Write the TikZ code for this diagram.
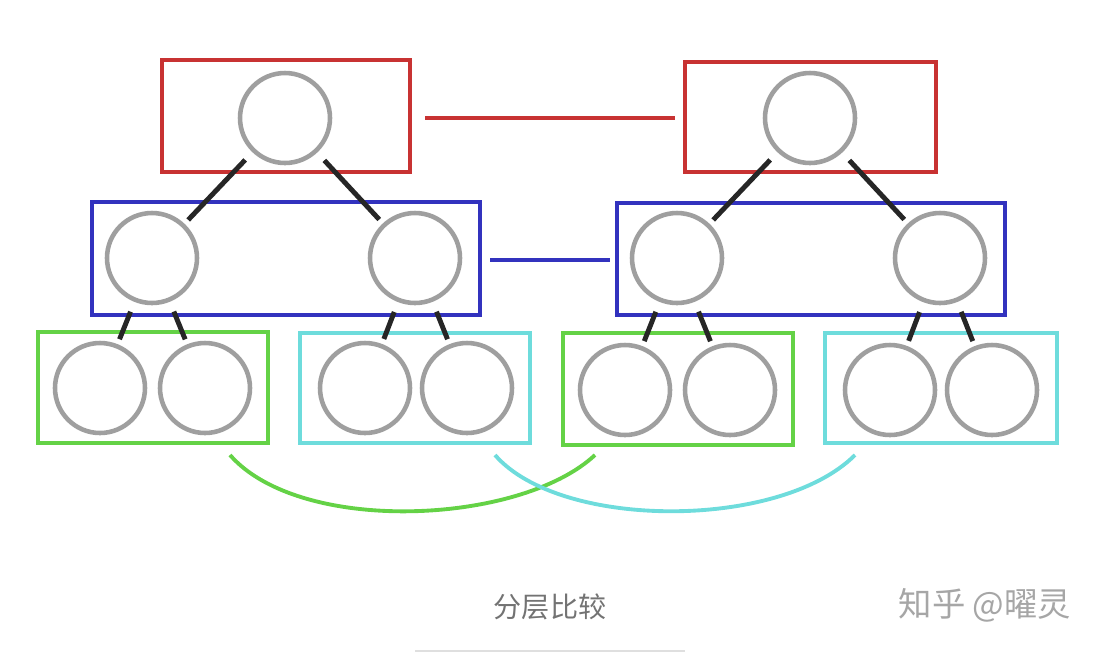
\documentclass[tikz,border=0pt]{standalone}
\usepackage{fontspec}
\newfontfamily\cjk{Noto Sans CJK SC}
\begin{document}
\begin{tikzpicture}[x=0.02cm,y=-0.02cm,
  cir/.style={circle,draw=gray!75,line width=2.6pt,minimum size=1.8cm,inner sep=0pt},
  lay/.style={draw=#1,line width=2pt},
  edge/.style={line width=2.8pt,black!85,shorten >=3pt,shorten <=6pt}]
\useasboundingbox (0,0) rectangle (1098,654);
\definecolor{rd}{RGB}{200,50,50}\definecolor{bl}{RGB}{50,50,190}
\definecolor{gr}{RGB}{100,210,70}\definecolor{cy}{RGB}{110,220,220}
\draw[lay=rd] (162,60) rectangle (410,172);
\draw[lay=rd] (685,62) rectangle (936,172);
\draw[lay=bl] (92,202) rectangle (480,315);
\draw[lay=bl] (617,203) rectangle (1005,315);
\draw[lay=gr] (38,332) rectangle (268,443);
\draw[lay=cy] (300,333) rectangle (530,443);
\draw[lay=gr] (563,333) rectangle (793,445);
\draw[lay=cy] (825,333) rectangle (1057,443);
\node[cir] (a) at (285,118) {};
\node[cir] (b) at (810,118) {};
\node[cir] (a1) at (152,258) {};
\node[cir] (a2) at (415,258) {};
\node[cir] (b1) at (677,258) {};
\node[cir] (b2) at (940,258) {};
\node[cir] (a11) at (100,388) {};
\node[cir] (a12) at (205,388) {};
\node[cir] (a21) at (365,388) {};
\node[cir] (a22) at (467,388) {};
\node[cir] (b11) at (625,390) {};
\node[cir] (b12) at (730,390) {};
\node[cir] (b21) at (890,390) {};
\node[cir] (b22) at (992,390) {};
\foreach \p/\c in {a/a1,a/a2,b/b1,b/b2,a1/a11,a1/a12,a2/a21,a2/a22,b1/b11,b1/b12,b2/b21,b2/b22}
  \draw[edge] (\p) -- (\c);
\coordinate (r1) at (425,118); \coordinate (r2) at (675,118);
\coordinate (u1) at (490,260); \coordinate (u2) at (610,260);
\draw[rd,line width=1.8pt] (r1) -- (r2);
\draw[bl,line width=1.8pt] (u1) -- (u2);
\coordinate (g1) at (230,455); \coordinate (g2) at (595,455);
\coordinate (c1) at (495,455); \coordinate (c2) at (855,455);
\draw[gr,line width=2.2pt] (g1) .. controls (300,535) and (520,525) .. (g2);
\draw[cy,line width=2.2pt] (c1) .. controls (560,530) and (780,530) .. (c2);
\node[text=gray!90!black,font=\cjk\fontsize{16}{16}\selectfont] (cap) at (550,607) {分层比较};
\node[text=gray!70,font=\cjk\fontsize{19}{19}\selectfont] (wm) at (985,605) {知乎 @曜灵};
\coordinate (l1) at (415,651); \coordinate (l2) at (685,651);
\draw[gray!25,line width=1pt] (l1) -- (l2);
\end{tikzpicture}
\end{document}
